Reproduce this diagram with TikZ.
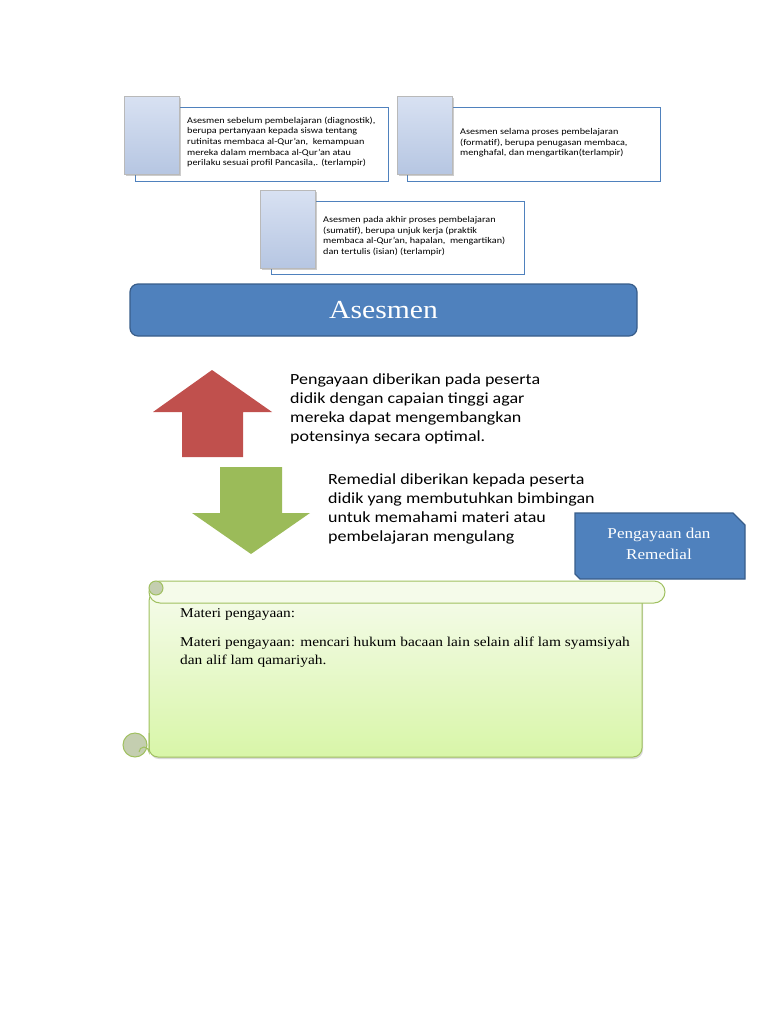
\documentclass[tikz,border=0pt]{standalone}
\usepackage{fontspec}
\setmainfont[FakeStretch=1.14]{Liberation Serif}
\setsansfont[FakeStretch=1.16]{Carlito}
\usetikzlibrary{shadows}

\definecolor{asblue}{RGB}{79,129,189}
\definecolor{asborder}{RGB}{56,93,138}
\definecolor{tilelight}{RGB}{216,225,242}
\definecolor{tiledark}{RGB}{182,198,226}
\definecolor{upred}{RGB}{192,80,77}
\definecolor{downgreen}{RGB}{155,187,89}
\definecolor{scrolltop}{RGB}{245,251,234}
\definecolor{scrollbot}{RGB}{216,246,168}
\definecolor{scrollline}{RGB}{160,192,96}
\definecolor{curlfill}{RGB}{196,206,176}

\begin{document}
\begin{tikzpicture}[x=1pt,y=-1pt,font=\sffamily,
  infobox/.style={draw=asblue, fill=white, line width=0.6pt, minimum width=253, minimum height=74, anchor=north west, inner sep=0pt},
  tile/.style={draw=gray!55, top color=tilelight, bottom color=tiledark, minimum width=55, minimum height=78, anchor=north west, inner sep=0pt,
    drop shadow={opacity=0.4, shadow xshift=2pt, shadow yshift=-2pt}},
  infotext/.style={anchor=west, align=left, inner sep=0pt, font=\sffamily\fontsize{8.8}{10.6}\selectfont},
  bigtext/.style={anchor=west, align=left, inner sep=0pt, font=\sffamily\fontsize{15.5}{19}\selectfont},
  scrolltext/.style={anchor=west, align=left, inner sep=0pt, font=\rmfamily\fontsize{13.5}{18}\selectfont},
  curl/.style={draw=scrollline, fill=curlfill, line width=1pt}]
  \path[use as bounding box] (0,0) rectangle (768,1024);

  \node[infobox] (diagbox) at (135,107) {};
  \node[tile] (diagtile) at (124,96) {};
  \node[infotext] (diagtext) at (187,142) {Asesmen sebelum pembelajaran (diagnostik),\\ berupa pertanyaan kepada siswa tentang\\ rutinitas membaca al-Qur'an,\ \ kemampuan\\ mereka dalam membaca al-Qur'an atau\\ perilaku sesuai profil Pancasila,. (terlampir)};

  \node[infobox] (formbox) at (407,107) {};
  \node[tile] (formtile) at (397,96) {};
  \node[infotext] (formtext) at (460,143) {Asesmen selama proses pembelajaran\\ (formatif), berupa penugasan membaca,\\ menghafal, dan mengartikan(terlampir)};

  \node[infobox, minimum height=73] (sumbox) at (271,201) {};
  \node[tile] (sumtile) at (260,190) {};
  \node[infotext] (sumtext) at (323,236) {Asesmen pada akhir proses pembelajaran\\ (sumatif), berupa unjuk kerja (praktik\\ membaca al-Qur'an, hapalan,\ \ mengartikan)\\ dan tertulis (isian) (terlampir)};

  \node[draw=asborder, fill=asblue, rounded corners=8, line width=1.2pt, minimum width=507, minimum height=52,
    text=white, font=\rmfamily\fontsize{26}{28}\selectfont] (asesmen) at (383.5,310) {Asesmen};

  \fill[upred] (212,370) -- (272,412) -- (243,412) -- (243,457) -- (182,457) -- (182,412) -- (153,412) -- cycle;
  \fill[downgreen] (220,467) -- (282,467) -- (282,513) -- (310,513) -- (251,554) -- (192,513) -- (220,513) -- cycle;

  \node[bigtext] (pengayaan) at (290,409) {Pengayaan diberikan pada peserta\\ didik dengan capaian tinggi agar\\ mereka dapat mengembangkan\\ potensinya secara optimal.};
  \node[bigtext] (remedial) at (328,509) {Remedial diberikan kepada peserta\\ didik yang membutuhkan bimbingan\\ untuk memahami materi atau\\ pembelajaran mengulang};

  \fill[asblue, draw=asborder, line width=1.2pt] (575,513) -- (733,513) -- (745,525) -- (745,579) -- (580,579) -- (575,574) -- cycle;
  \node[align=center, text=white, font=\rmfamily\fontsize{15}{21}\selectfont] (pdr) at (659,544) {Pengayaan dan\\ Remedial};

  \draw[draw=scrollline, line width=1pt, top color=scrolltop, bottom color=scrollbot, rounded corners=9,
    drop shadow={opacity=0.3, shadow xshift=1pt, shadow yshift=-2pt}] (149,592) rectangle (642,757);
  \draw[draw=scrollline, line width=1pt, fill=scrolltop, rounded corners=11] (149,581) rectangle (665,603);
  \draw[curl] (156,588) circle (7);
  \draw[curl] (135,745) circle (12);
  \draw[draw=scrollline, line width=1pt] (149,733) -- (149,752) arc (0:-180:5);

  \node[scrolltext] (materi) at (180,614) {Materi pengayaan:};
  \node[scrolltext, anchor=north west] (materiisi) at (180,637) {Materi pengayaan: mencari hukum bacaan lain selain alif lam syamsiyah\\ dan alif lam qamariyah.};
\end{tikzpicture}
\end{document}
